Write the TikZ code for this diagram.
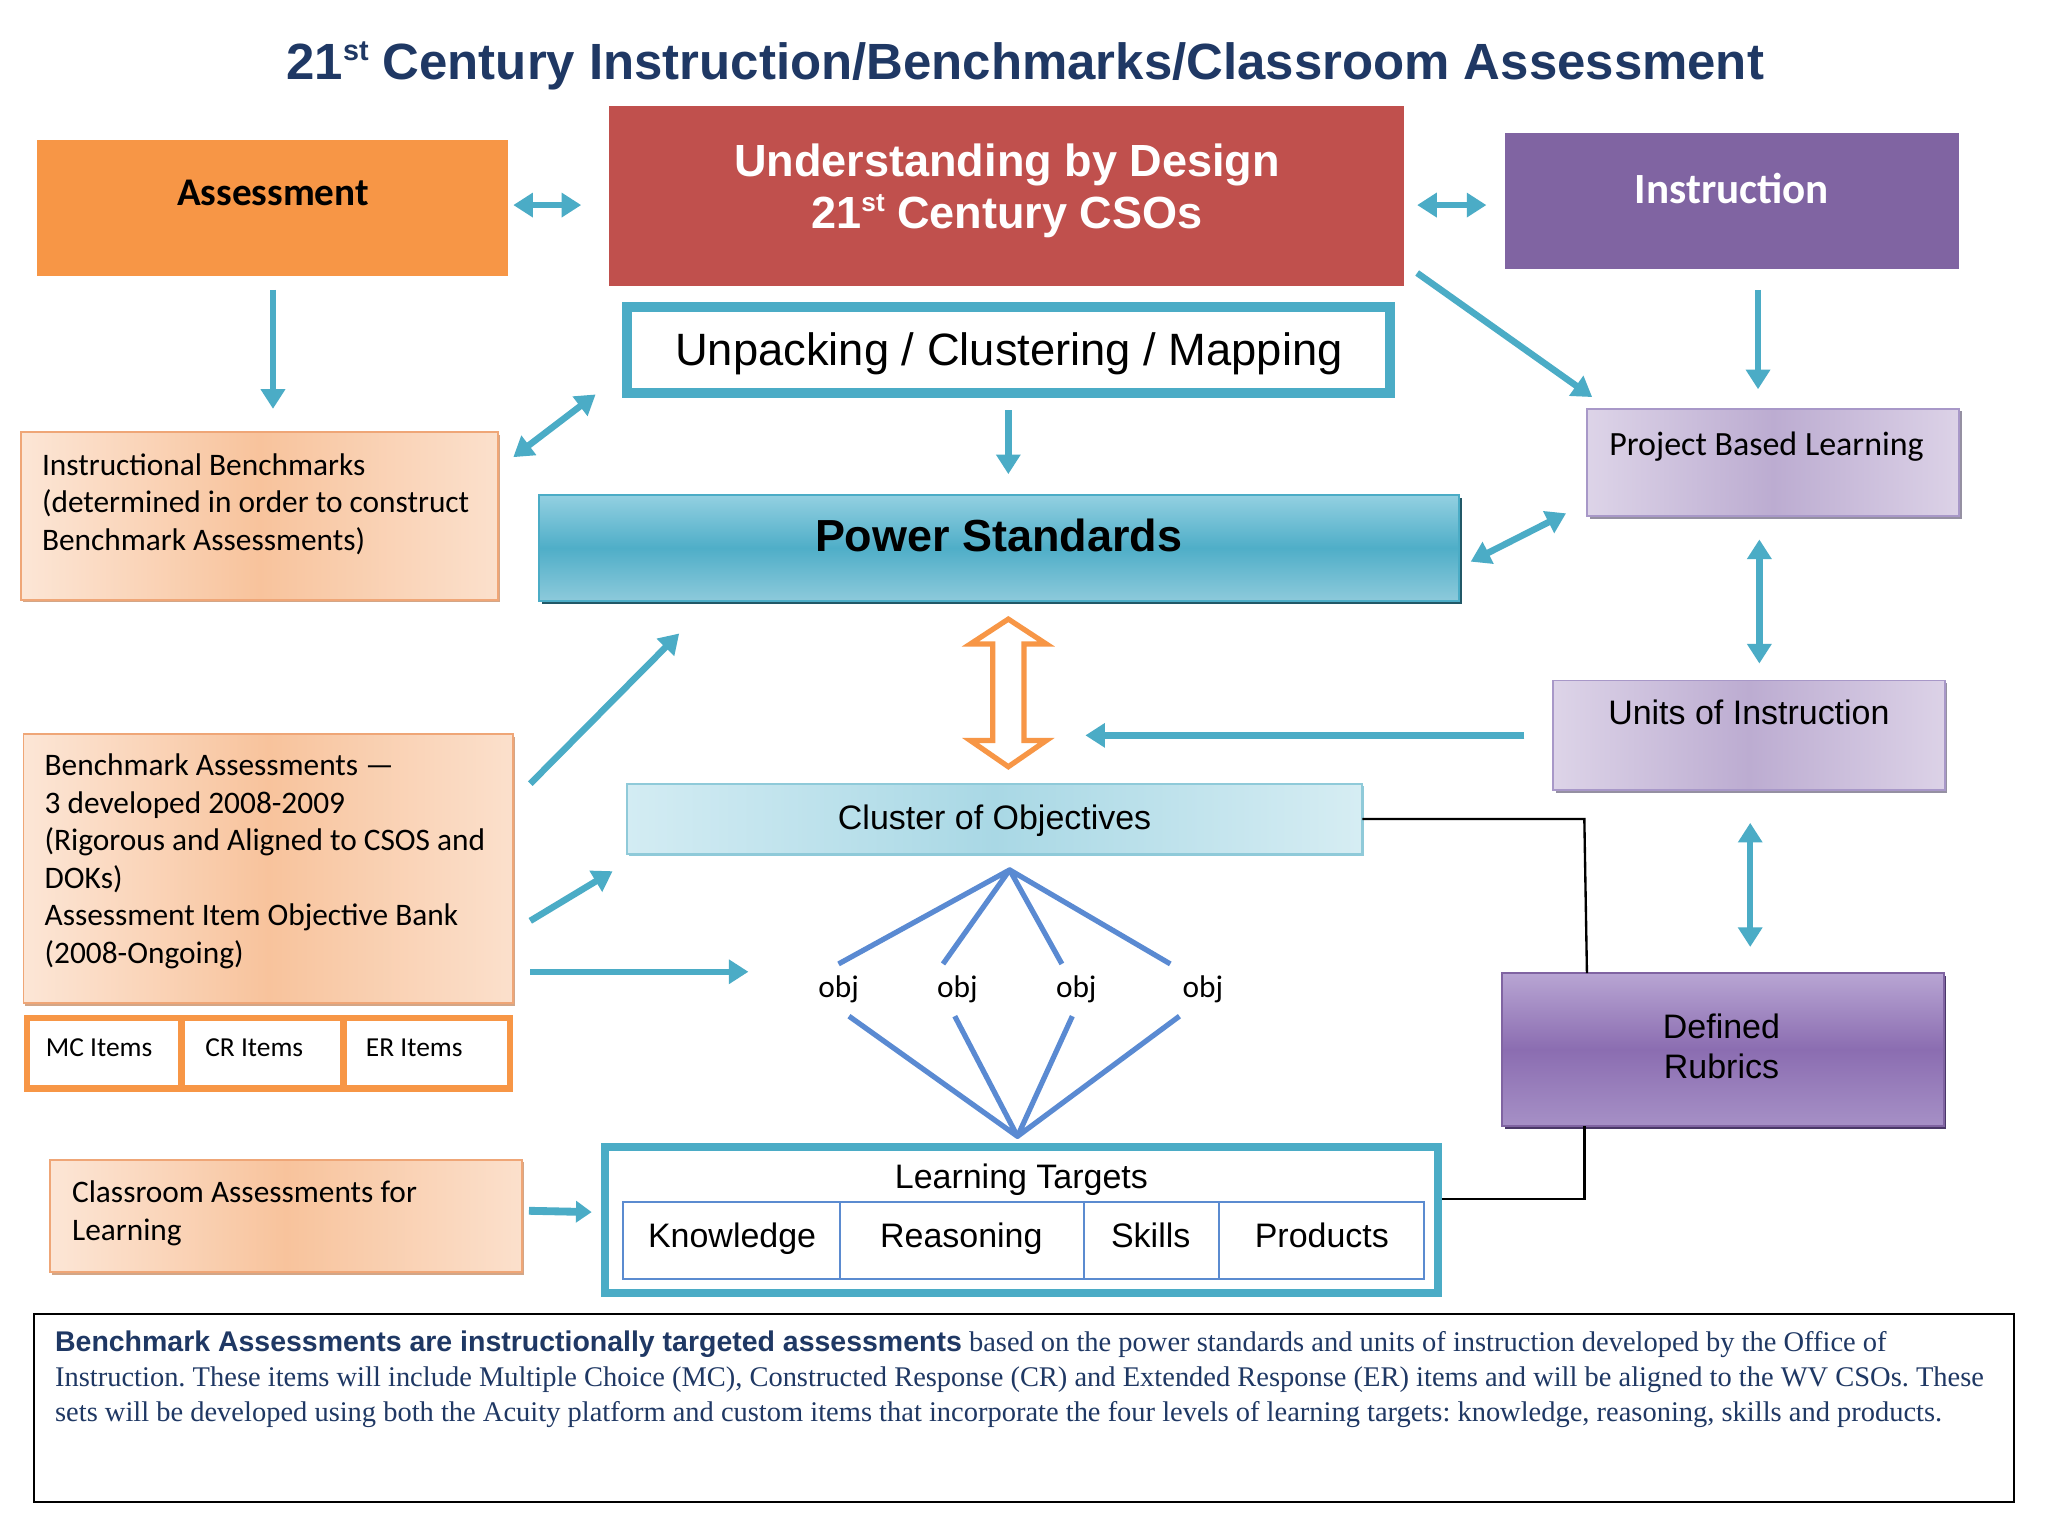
\documentclass[tikz,border=0pt]{standalone}
\usepackage{fontspec}
\setmainfont{Liberation Sans}
\newfontfamily\calfont{Carlito}
\newfontfamily\timesfont{Liberation Serif}
\usetikzlibrary{arrows.meta,calc,shadows}
\newcommand\setfs[2]{\fontsize{#1}{#2}\selectfont}
\definecolor{titleblue}{HTML}{1F3864}
\definecolor{aorange}{HTML}{F79646}
\definecolor{ared}{HTML}{C0504D}
\definecolor{apurple}{HTML}{8064A2}
\definecolor{ateal}{HTML}{4BACC6}
\definecolor{objblue}{HTML}{5A8AD2}
\definecolor{peachL}{HTML}{FCE6D6}
\definecolor{peachM}{HTML}{F8C39C}
\definecolor{peachR}{HTML}{FBE0CC}
\definecolor{peachB}{HTML}{EFA677}
\definecolor{peachS}{HTML}{C8906A}
\definecolor{lavL}{HTML}{DDD4E8}
\definecolor{lavM}{HTML}{BCACD1}
\definecolor{lavR}{HTML}{DCD2E7}
\definecolor{lavB}{HTML}{A898C8}
\definecolor{lavS}{HTML}{8A8498}
\definecolor{rubT}{HTML}{B8A5D3}
\definecolor{rubM}{HTML}{8B6DB1}
\definecolor{rubB}{HTML}{A690C6}
\definecolor{rubS}{HTML}{4A3868}
\definecolor{powT}{HTML}{93D0E1}
\definecolor{powM}{HTML}{4FAEC8}
\definecolor{powB}{HTML}{8DCADB}
\definecolor{powS}{HTML}{215867}
\definecolor{cluL}{HTML}{D3ECF3}
\definecolor{cluM}{HTML}{A9D8E5}
\definecolor{cluR}{HTML}{D6EDF3}
\definecolor{cluB}{HTML}{8FCAD9}
\definecolor{celblue}{HTML}{5B8BD0}
\tikzset{
  box/.style={rectangle, inner sep=0pt, outer sep=0pt},
  peach/.style={box, left color=peachL, right color=peachR, middle color=peachM, draw=peachB, line width=1.5pt,
    drop shadow={shadow xshift=1.5pt, shadow yshift=-2pt, fill=peachS, opacity=0.8}},
  lav/.style={box, left color=lavL, right color=lavR, middle color=lavM, draw=lavB, line width=1.5pt,
    drop shadow={shadow xshift=2pt, shadow yshift=-2pt, fill=lavS, opacity=0.9}},
  arr/.style={draw=ateal, line width=5pt, -{Triangle[length=15pt,width=18pt]}},
  dbl/.style={draw=ateal, line width=5pt, {Triangle[length=15pt,width=18pt]}-{Triangle[length=15pt,width=18pt]}},
  conn/.style={draw=black, line width=1.8pt},
  objline/.style={draw=objblue, line width=4pt, line join=round},
  cell/.style={box, draw=celblue, line width=1.5pt},
  itemcell/.style={box, draw=aorange, line width=5pt, fill=white},
  atext/.style={font={\setfs{26}{31}}, anchor=base, inner sep=0pt},
}
\begin{document}
\begin{tikzpicture}[x=1pt,y=-1pt]
\useasboundingbox (0,0) rectangle (1568,1176);
\fill[white] (0,0) rectangle (1568,1176);

% title
\node[anchor=base, inner sep=0pt, text=titleblue, font={\bfseries\setfs{39}{46}}] (title) at (785,61)
  {21\raisebox{15pt}{\setfs{22}{22}st} Century Instruction/Benchmarks/Classroom Assessment};

% top row
\node[box, fill=aorange, minimum width=361pt, minimum height=104pt] (assess) at (208.5,159) {};
\node[anchor=base, inner sep=0pt, font={\calfont\bfseries\setfs{30}{36}}] at (209,157) {Assessment};

\node[box, fill=ared, minimum width=609pt, minimum height=138pt] (ubd) at (770.5,150) {};
\node[anchor=base, inner sep=0pt, text=white, font={\bfseries\setfs{34.5}{40}}] at (771,135.5) {Understanding by Design};
\node[anchor=base, inner sep=0pt, text=white, font={\bfseries\setfs{34.5}{40}}] at (771,175)
  {21\raisebox{13pt}{\setfs{20}{20}st} Century CSOs};

\node[box, fill=apurple, minimum width=348pt, minimum height=104pt] (instr) at (1326,154) {};
\node[anchor=base, inner sep=0pt, text=white, font={\calfont\bfseries\setfs{33}{40}}] at (1326,155.6) {Instruction};

% unpacking
\node[box, draw=ateal, line width=8pt, fill=white, minimum width=584pt, minimum height=66pt] (unpack) at (772,268) {};
\node[anchor=base, inner sep=0pt, font={\setfs{34.7}{40}}] at (772.5,279.5) {Unpacking / Clustering / Mapping};

% instructional benchmarks
\node[peach, minimum width=365pt, minimum height=128pt] (ib) at (198.5,395) {};
\node[anchor=base west, inner sep=0pt] at (32,364) {\parbox[t]{360pt}{\calfont\setfs{24}{28.6}\raggedright
  Instructional Benchmarks\\(determined in order to construct\\Benchmark Assessments)}};

% power standards
\node[box, top color=powT, bottom color=powB, middle color=powM, draw=ateal, line width=1.5pt,
  minimum width=704pt, minimum height=81pt,
  drop shadow={shadow xshift=2pt, shadow yshift=-2.5pt, fill=powS, opacity=1}] (power) at (765,419.5) {};
\node[anchor=base, inner sep=0pt, font={\bfseries\setfs{34.4}{40}}] at (764.5,422) {Power Standards};

% project based learning
\node[lav, minimum width=285pt, minimum height=82pt] (pbl) at (1357.5,354) {};
\node[anchor=base, inner sep=0pt, font={\calfont\setfs{26}{31}}] at (1352.5,348.5) {Project Based Learning};

% units of instruction
\node[lav, minimum width=300pt, minimum height=84pt] (units) at (1339,563) {};
\node[atext] at (1339,555) {Units of Instruction};

% benchmark assessments
\node[peach, minimum width=375pt, minimum height=206pt] (ba) at (205.5,665) {};
\node[anchor=base west, inner sep=0pt] at (34,594) {\parbox[t]{370pt}{\calfont\setfs{24}{28.7}\raggedright
  Benchmark Assessments —\\3 developed 2008-2009\\(Rigorous and Aligned to CSOS and\\DOKs)\\Assessment Item Objective Bank\\(2008-Ongoing)}};

% items
\node[itemcell, minimum width=118.5pt, minimum height=54pt] (mc) at (79.75,806.5) {};
\node[itemcell, minimum width=124pt, minimum height=54pt] (cr) at (201,806.5) {};
\node[itemcell, minimum width=127.5pt, minimum height=54pt] (er) at (326.75,806.5) {};
\node[anchor=base west, inner sep=0pt, font={\calfont\setfs{21}{25}}] at (35,809) {MC Items};
\node[anchor=base west, inner sep=0pt, font={\calfont\setfs{21}{25}}] at (157,809) {CR Items};
\node[anchor=base west, inner sep=0pt, font={\calfont\setfs{21}{25}}] at (280,809) {ER Items};

% cluster of objectives
\node[box, left color=cluL, right color=cluR, middle color=cluM, draw=cluB, line width=1.5pt,
  minimum width=563pt, minimum height=54pt,
  drop shadow={shadow xshift=1.5pt, shadow yshift=-1.5pt, fill=cluB, opacity=1}] (cluster) at (761.5,627) {};
\node[atext] at (761.5,635) {Cluster of Objectives};

% orange hollow double arrow
\coordinate (oarr) at (772,530);
\draw[draw=aorange, line width=4pt, fill=white, line join=miter, shift={(oarr)}]
  (0,-56) -- (29,-37) -- (12,-37) -- (12,37) -- (29,37) -- (0,57) -- (-29,37) -- (-12,37) -- (-12,-37) -- (-29,-37) -- cycle;

% defined rubrics
\node[box, top color=rubT, bottom color=rubB, middle color=rubM, draw=apurple, line width=1.5pt,
  minimum width=338pt, minimum height=117pt,
  drop shadow={shadow xshift=2pt, shadow yshift=-2.5pt, fill=rubS, opacity=1}] (rubrics) at (1319,803.5) {};
\node[atext] at (1318,795) {Defined};
\node[atext] at (1318,826) {Rubrics};

% obj labels
\node[anchor=base, inner sep=0pt, font={\calfont\setfs{24}{28}}] (o1) at (642,764) {obj};
\node[anchor=base, inner sep=0pt, font={\calfont\setfs{24}{28}}] (o2) at (733,764) {obj};
\node[anchor=base, inner sep=0pt, font={\calfont\setfs{24}{28}}] (o3) at (824,764) {obj};
\node[anchor=base, inner sep=0pt, font={\calfont\setfs{24}{28}}] (o4) at (921,764) {obj};

% classroom assessments
\node[peach, minimum width=362pt, minimum height=86pt] (ca) at (219,931) {};
\node[anchor=base west, inner sep=0pt] at (55,921) {\parbox[t]{340pt}{\calfont\setfs{24}{29}\raggedright
  Classroom Assessments for\\Learning}};

% learning targets
\node[box, draw=ateal, line width=6pt, fill=white, minimum width=638pt, minimum height=112pt] (lt) at (782,934) {};
\node[atext] at (782,910) {Learning Targets};
\node[cell, minimum width=166pt, minimum height=59pt] (kn) at (560,949.5) {};
\node[cell, minimum width=187pt, minimum height=59pt] (re) at (736.5,949.5) {};
\node[cell, minimum width=103pt, minimum height=59pt] (sk) at (881.5,949.5) {};
\node[cell, minimum width=157pt, minimum height=59pt] (pr) at (1011.5,949.5) {};
\node[atext] at (560.5,955) {Knowledge};
\node[atext] at (736,955) {Reasoning};
\node[atext] at (881,955) {Skills};
\node[atext] at (1012,955) {Products};

% bottom explanation
\node[box, draw=black, line width=2pt, minimum width=1516pt, minimum height=144pt] (note) at (784,1078) {};
\node[anchor=base west, inner sep=0pt, text=titleblue] at (42,1035) {\parbox[t]{1500pt}{\frenchspacing\timesfont\setfs{21.8}{26.5}\raggedright
  {\normalfont\bfseries Benchmark Assessments are instructionally targeted assessments} based on the power standards and units of instruction developed by the Office of\\
  Instruction. These items will include Multiple Choice (MC), Constructed Response (CR) and Extended Response (ER) items and will be aligned to the WV CSOs. These\\
  sets will be developed using both the Acuity platform and custom items that incorporate the four levels of learning targets: knowledge, reasoning, skills and products.}};

% connectors
\draw[dbl] ($(assess.east)+(4,-2)$) -- ($(ubd.west)+(-21,7)$);
\draw[dbl] ($(ubd.east)+(10,7)$) -- ($(instr.west)+(-14,3)$);
\draw[arr] ($(assess.south)+(0.5,11)$) -- ($(assess.south |- ib.north)+(0.5,-18)$);
\draw[arr] ($(instr.south)+(20,16)$) -- ($(pbl.north)+(-11.5,-15)$);
\draw[arr] ($(ubd.south east)+(10,-10)$) -- ($(pbl.north west)+(4,-9)$);
\draw[dbl] ($(ib.north east)+(12,19)$) -- ($(unpack.south west)+(-24,1)$);
\draw[arr] ($(unpack.south)+(0,13)$) -- ($(power.north)+(7,-16)$);
\draw[dbl] ($(power.east)+(9,10.5)$) -- ($(pbl.south west)+(-16,-2)$);
\draw[dbl] ($(pbl.south)+(-10.5,18)$) -- ($(units.north)+(8,-13)$);
\draw[arr] ($(units.west)+(-22,0)$) -- ($(oarr)+(59,33)$);
\draw[arr] ($(ba.north east)+(13,38)$) -- ($(power.south west)+(107,25)$);
\draw[arr] ($(ba.east)+(13,40)$) -- ($(cluster.south west)+(-11,13)$);
\draw[arr] ($(ba.east)+(13,79)$) -- ($(o1.base)+(-69,-20)$);
\draw[dbl] ($(units.south)+(1,25)$) -- ($(rubrics.north)+(21,-20)$);
\draw[draw=ateal, line width=6pt, -{Triangle[length=12pt,width=16pt]}] ($(ca.east)+(5,-4)$) -- ($(lt.west)+(-10,-6)$);

% objective tree
\coordinate (clapex) at ($(cluster.south)+(11.5,12)$);
\coordinate (ltapex) at ($(lt.north)+(-3,-8)$);
\draw[objline] ($(o1.base)+(0,-26)$) -- (clapex) -- ($(o2.base)+(-11,-26)$);
\draw[objline] ($(o3.base)+(-11,-26)$) -- (clapex) -- ($(o4.base)+(-25,-26)$);
\draw[objline] ($(o1.base)+(8,14)$) -- (ltapex) -- ($(o2.base)+(-2,14)$);
\draw[objline] ($(o3.base)+(-3,14)$) -- (ltapex) -- ($(o4.base)+(-18,14)$);

% black connectors
\draw[conn] (cluster.east) -- ++(170,0) -- ($(rubrics.north west)+(65,0)$);
\draw[conn] ($(rubrics.south west)+(63,0)$) |- ($(lt.east)+(3,-16)$);
\end{tikzpicture}
\end{document}
